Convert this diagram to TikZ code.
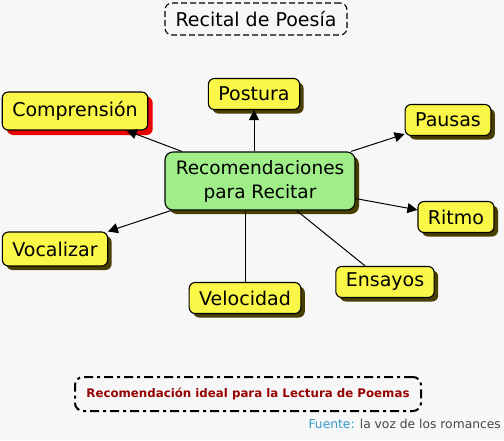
\documentclass[tikz,border=0pt]{standalone}
\usepackage{fontspec}
\setmainfont{DejaVu Sans}
\usepackage{tikz}
\usetikzlibrary{arrows.meta,positioning,shadows}
\definecolor{bggray}{RGB}{247,247,247}
\definecolor{leafyellow}{RGB}{250,247,72}
\definecolor{hubgreen}{RGB}{160,238,138}
\definecolor{shadowolive}{RGB}{72,62,0}
\definecolor{shadowred}{RGB}{235,0,0}
\definecolor{notered}{RGB}{150,0,0}
\definecolor{sourceblue}{RGB}{51,153,204}
\definecolor{sourcegray}{RGB}{70,70,70}
\tikzset{
	>={Triangle[length=10pt,width=10pt]},
	leaf/.style={
		draw,
		rounded corners=6pt,
		line width=1.1pt,
		fill=leafyellow,
		inner xsep=10pt,
		minimum height=31pt,
		font=\fontsize{19}{22}\selectfont,
		drop shadow={shadow xshift=4pt,shadow yshift=-4pt,fill=shadowolive,opacity=1}
	},
	hub/.style={
		draw,
		rounded corners=8pt,
		line width=1.1pt,
		fill=hubgreen,
		minimum width=190pt,
		minimum height=58pt,
		align=center,
		font=\fontsize{18.5}{24}\selectfont,
		drop shadow={shadow xshift=4pt,shadow yshift=-4pt,fill=shadowolive,opacity=1}
	},
	conn/.style={
		->,
		line width=1pt
	},
	link/.style={
		line width=1pt
	}
}

\begin{document}
\begin{tikzpicture}[x=1pt,y=-1pt]
	
	% Background
	\fill[bggray] (0,0) rectangle (504,440);
	\useasboundingbox (0,0) rectangle (504,440);
	
	% Title
	\node[draw,dash pattern=on 6pt off 3pt,rounded corners=7pt,line width=1.1pt,minimum width=182pt,minimum height=32pt,font=\fontsize{19}{22}\selectfont] (title) at (256,19) {Recital de Poesía};
	
	% Hub
	\node[hub] (hub) at (260,181) {Recomendaciones\\para Recitar};
	
	% Leaves
	\node[leaf,minimum height=38pt,drop shadow={shadow xshift=5pt,shadow yshift=-5pt,fill=shadowred,opacity=1}] (compr) at (75,111) {Comprensión};
	\node[leaf] (post) at (254,94) {Postura};
	\node[leaf] (paus) at (448,120) {Pausas};
	\node[leaf] (ritmo) at (456,217) {Ritmo};
	\node[leaf,minimum height=34pt] (vocal) at (55,249) {Vocalizar};
	\node[leaf] (ensa) at (385,282) {Ensayos};
	\node[leaf] (velo) at (245,298) {Velocidad};
	
	% Connections
	\draw[conn] (hub) -- (compr);
	\draw[conn] (post |- hub.north) -- (post);
	\draw[conn] (hub) -- (paus);
	\draw[conn] (hub) -- (ritmo);
	\draw[conn] (hub) -- (vocal);
	\draw[link] (hub) -- (ensa);
	\draw[link] (velo |- hub.south) -- (velo);
	
	% Note
	\node[draw,dash pattern=on 9pt off 4pt on 3pt off 4pt,rounded corners=8pt,line width=2pt,minimum width=346pt,minimum height=34pt,text=notered,font=\fontsize{11.8}{14}\selectfont\bfseries] (note) at (248,394) {Recomendación ideal para la Lectura de Poemas};
	\node[anchor=east,inner sep=0pt,text=sourcegray,font=\fontsize{12.3}{14}\selectfont] (src) at (501,424) {\textcolor{sourceblue}{Fuente:} la voz de los romances};
	
\end{tikzpicture}
\end{document}
